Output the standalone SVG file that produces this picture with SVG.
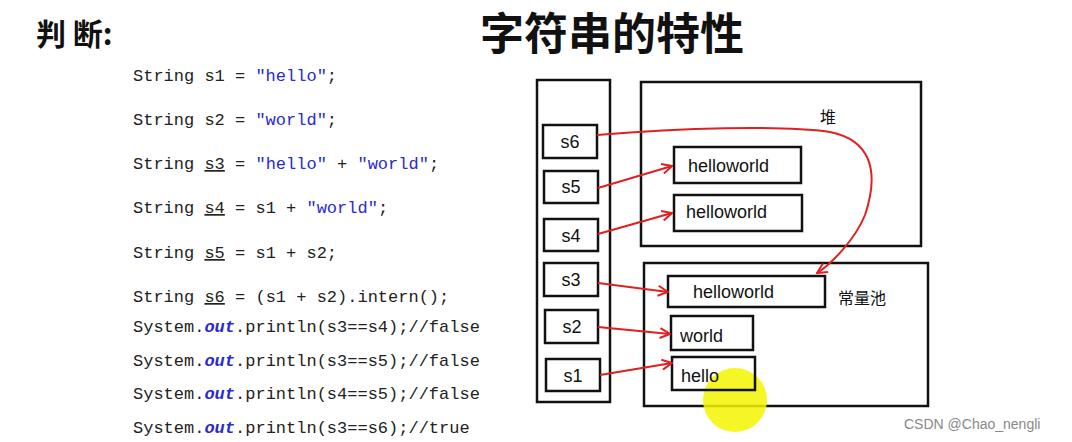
<svg xmlns="http://www.w3.org/2000/svg" width="1072" height="442" viewBox="0 0 1072 442">
<style>
.c{font-family:"Liberation Mono",monospace;font-size:17px;fill:#222}
.s{fill:#2a2ad0}.o{fill:#2a2ad0;font-style:italic;font-weight:bold}.u{text-decoration:underline}
.b{fill:#fff;stroke:#111;stroke-width:2.5}
.t{font-family:"Liberation Sans",Arial,sans-serif;font-size:18px;fill:#111}
.a{fill:none;stroke:#e02020;stroke-width:2}
</style>
<defs><marker id="m" viewBox="0 0 12 12" refX="11" refY="6" markerWidth="12" markerHeight="12" markerUnits="userSpaceOnUse" orient="auto"><path d="M1,1 L11,6 L1,11" fill="none" stroke="#e02020" stroke-width="2"/></marker></defs>
<rect width="1072" height="442" fill="#fff"/>
<text x="36" y="45" font-family="Noto Sans CJK SC,sans-serif" font-size="30" font-weight="bold" fill="#111">判 断:</text>
<text x="480" y="50" font-family="Noto Sans CJK SC,sans-serif" font-size="44" font-weight="bold" fill="#111">字符串的特性</text>
<g id="code">
<text class="c" x="133" y="81">String s1 = <tspan class="s">"hello"</tspan>;</text>
<text class="c" x="133" y="125">String s2 = <tspan class="s">"world"</tspan>;</text>
<text class="c" x="133" y="169">String <tspan class="u">s3</tspan> = <tspan class="s">"hello"</tspan> + <tspan class="s">"world"</tspan>;</text>
<text class="c" x="133" y="213">String <tspan class="u">s4</tspan> = s1 + <tspan class="s">"world"</tspan>;</text>
<text class="c" x="133" y="258">String <tspan class="u">s5</tspan> = s1 + s2;</text>
<text class="c" x="133" y="302">String <tspan class="u">s6</tspan> = (s1 + s2).intern();</text>
<text class="c" x="133" y="332">System.<tspan class="o">out</tspan>.println(s3==s4);//false</text>
<text class="c" x="133" y="366">System.<tspan class="o">out</tspan>.println(s3==s5);//false</text>
<text class="c" x="133" y="399">System.<tspan class="o">out</tspan>.println(s4==s5);//false</text>
<text class="c" x="133" y="433">System.<tspan class="o">out</tspan>.println(s3==s6);//true</text>
</g>
<g id="stack"><rect class="b" x="537" y="80" width="73" height="322"/></g>
<g id="heap"><rect class="b" x="641" y="82" width="280" height="164"/><text x="820" y="123" font-family="Noto Sans CJK SC,sans-serif" font-size="16" fill="#111">堆</text></g>
<g id="pool"><rect class="b" x="644" y="263" width="284" height="143"/><text x="838" y="304" font-family="Noto Sans CJK SC,sans-serif" font-size="16" fill="#111">常量池</text></g>
<circle cx="735" cy="400" r="32" fill="#f5f500" opacity="0.85"/>
<g id="s6"><rect class="b" x="543" y="125" width="54" height="33"/><text class="t" x="570" y="148" text-anchor="middle">s6</text></g>
<g id="s5"><rect class="b" x="544" y="171" width="54" height="32"/><text class="t" x="571" y="193" text-anchor="middle">s5</text></g>
<g id="s4"><rect class="b" x="544" y="219" width="54" height="32"/><text class="t" x="571" y="242" text-anchor="middle">s4</text></g>
<g id="s3"><rect class="b" x="544" y="263" width="54" height="33"/><text class="t" x="571" y="286" text-anchor="middle">s3</text></g>
<g id="s2"><rect class="b" x="545" y="310" width="53" height="33"/><text class="t" x="572" y="333" text-anchor="middle">s2</text></g>
<g id="s1"><rect class="b" x="546" y="359" width="54" height="32"/><text class="t" x="573" y="382" text-anchor="middle">s1</text></g>
<g id="h1"><rect class="b" x="674" y="147" width="127" height="36"/><text class="t" x="688" y="172">helloworld</text></g>
<g id="h2"><rect class="b" x="674" y="195" width="128" height="36"/><text class="t" x="686" y="218">helloworld</text></g>
<g id="h3"><rect class="b" x="668" y="276" width="157" height="31"/><text class="t" x="693" y="298">helloworld</text></g>
<g id="world"><rect class="b" x="671" y="316" width="82" height="34"/><text class="t" x="680" y="342">world</text></g>
<g id="hello"><rect x="672" y="357" width="83" height="33" fill="none" stroke="#111" stroke-width="2.5"/><text class="t" x="681" y="382">hello</text></g>
<g id="connectors">
<path class="a" marker-end="url(#m)" d="M597,135 C680,128 780,125 830,132 C870,140 880,170 865,215 C855,240 830,265 817,273"/>
<path class="a" marker-end="url(#m)" d="M598,188 L672,166"/>
<path class="a" marker-end="url(#m)" d="M598,234 L672,213"/>
<path class="a" marker-end="url(#m)" d="M598,283 L668,292"/>
<path class="a" marker-end="url(#m)" d="M598,327 L670,334"/>
<path class="a" marker-end="url(#m)" d="M600,375 L672,363"/>
</g>
<text x="904" y="429" font-family="Liberation Sans,sans-serif" font-size="14" fill="#888">CSDN @Chao_nengli</text>
</svg>
